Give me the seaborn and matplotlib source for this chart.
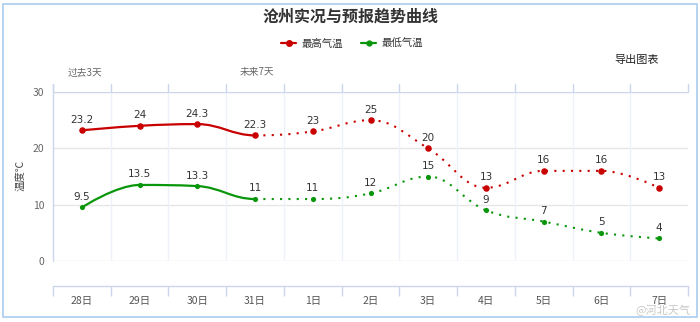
import numpy as np
import matplotlib
matplotlib.use("Agg")
import matplotlib.pyplot as plt
import seaborn as sns
from matplotlib.path import Path
from matplotlib.patches import PathPatch, Rectangle
from matplotlib.lines import Line2D
from matplotlib.transforms import blended_transform_factory

sns.set_theme(style="white")
plt.rcParams['font.family'] = ['Noto Sans CJK SC', 'DejaVu Sans']

days = ["28日", "29日", "30日", "31日", "1日", "2日", "3日", "4日", "5日", "6日", "7日"]
high = [23.2, 24, 24.3, 22.3, 23, 25, 20, 13, 16, 16, 13]
low = [9.5, 13.5, 13.3, 11, 11, 12, 15, 9, 7, 5, 4]
high_labels = ["23.2", "24", "24.3", "22.3", "23", "25", "20", "13", "16", "16", "13"]
low_labels = ["9.5", "13.5", "13.3", "11", "11", "12", "15", "9", "7", "5", "4"]
n_past = 4  # index 0..3 observed (solid), forecast from index 3 on (dotted)

RED = "#c80000"
GREEN = "#0a960a"
GRID = "#e6e6e6"
AXIS = "#ccd6eb"

W, H = 700, 322
fig = plt.figure(figsize=(W / 100, H / 100), dpi=100)
fig.patch.set_facecolor("white")

# outer light-blue frame
fig.add_artist(Rectangle((3 / W, 5 / H), 694 / W, 313 / H, transform=fig.transFigure,
                         fill=False, edgecolor="#a9cdef", lw=1.2))

L, R = 53, 688
TOP, BOT = 92, 261
ax = fig.add_axes([L / W, 1 - BOT / H, (R - L) / W, (BOT - TOP) / H])
ax.set_xlim(-0.5, len(days) - 0.5)
ax.set_ylim(0, 30)
for s in ["top", "right", "bottom", "left"]:
    ax.spines[s].set_visible(False)
ax.set_xticks([])
ax.set_yticks([0, 10, 20, 30])
ax.set_yticklabels(["0", "10", "20", "30"], color="#666666", fontsize=7.5)
ax.tick_params(axis="y", length=0, pad=6)
for yv in [0, 10, 20, 30]:
    ax.axhline(yv, color=GRID if yv != 30 else AXIS, lw=1, zorder=0)
for k in range(1, len(days)):
    ax.axvline(k - 0.5, color="#eef1f7", lw=1, zorder=0)
# top tick marks and left axis line extending above
for k in range(len(days) + 1):
    ax.add_line(Line2D([k - 0.5, k - 0.5], [1, 1 + 8 / (BOT - TOP)], color=AXIS, lw=1,
                       transform=blended_transform_factory(ax.transData, ax.transAxes),
                       clip_on=False))
ax.add_line(Line2D([0, 0], [0, 1 + 8 / (BOT - TOP)], color=AXIS, lw=1,
                   transform=ax.transAxes, clip_on=False))


def spline_path(xs, ys, smoothing=1.5):
    denom = smoothing + 1
    n = len(xs)
    lefts, rights = [None] * n, [None] * n
    for i in range(1, n - 1):
        x, y = xs[i], ys[i]
        lx, ly = xs[i - 1], ys[i - 1]
        nx, ny = xs[i + 1], ys[i + 1]
        lcx = (smoothing * x + lx) / denom
        lcy = (smoothing * y + ly) / denom
        rcx = (smoothing * x + nx) / denom
        rcy = (smoothing * y + ny) / denom
        if rcx != lcx:
            corr = ((rcy - lcy) * (rcx - x)) / (rcx - lcx) + y - rcy
            lcy += corr
            rcy += corr
        if lcy > ly and lcy > y:
            lcy = max(ly, y); rcy = 2 * y - lcy
        elif lcy < ly and lcy < y:
            lcy = min(ly, y); rcy = 2 * y - lcy
        if rcy > ny and rcy > y:
            rcy = max(ny, y); lcy = 2 * y - rcy
        elif rcy < ny and rcy < y:
            rcy = min(ny, y); lcy = 2 * y - rcy
        lefts[i] = (lcx, lcy)
        rights[i] = (rcx, rcy)
    verts = [(xs[0], ys[0])]
    codes = [Path.MOVETO]
    for i in range(1, n):
        c1 = rights[i - 1] if rights[i - 1] is not None else (xs[i - 1], ys[i - 1])
        c2 = lefts[i] if lefts[i] is not None else (xs[i], ys[i])
        verts += [c1, c2, (xs[i], ys[i])]
        codes += [Path.CURVE4] * 3
    return Path(verts, codes)


def draw_series(vals, color, ms, labels):
    xs = list(range(len(vals)))
    full = spline_path(xs, vals)
    verts = full.vertices
    solid_n = 1 + 3 * (n_past - 1)
    p1 = Path(verts[:solid_n], full.codes[:solid_n])
    v2 = verts[solid_n - 1:]
    c2 = [Path.MOVETO] + list(full.codes[solid_n:])
    p2 = Path(v2, c2)
    ax.add_patch(PathPatch(p1, facecolor="none", edgecolor=color, lw=1.6, zorder=3,
                           capstyle="round"))
    ax.add_patch(PathPatch(p2, facecolor="none", edgecolor=color, lw=1.5, zorder=3,
                           linestyle=(0, (1, 3)), capstyle="butt"))
    sns.scatterplot(x=xs, y=vals, ax=ax, color=color, s=ms, edgecolor=color,
                    linewidth=0, zorder=4, clip_on=False, legend=False)
    for x, v, lab in zip(xs, vals, labels):
        ax.annotate(lab, (x, v), xytext=(0, 4), textcoords="offset points",
                    ha="center", va="bottom", fontsize=7.5, color="#333333",
                    family="DejaVu Sans", zorder=5)


draw_series(high, RED, 22, high_labels)
draw_series(low, GREEN, 14, low_labels)

# bottom category axis
BX = 286
ax2 = fig.add_axes([L / W, 1 - BX / H, (R - L) / W, 0.0001])
ax2.set_xlim(-0.5, len(days) - 0.5)
for s in ["top", "right", "left"]:
    ax2.spines[s].set_visible(False)
ax2.spines["bottom"].set_visible(True)
ax2.spines["bottom"].set_color(AXIS)
ax2.spines["bottom"].set_linewidth(1)
ax2.set_yticks([])
ax2.set_xticks(range(len(days)))
ax2.set_xticklabels(days, fontsize=7.5, color="#555555")
ax2.set_xticks([k - 0.5 for k in range(len(days) + 1)], minor=True)
ax2.tick_params(axis="x", which="both", bottom=True, top=False)
ax2.tick_params(axis="x", which="major", length=0, pad=7)
ax2.tick_params(axis="x", which="minor", length=7, color=AXIS, width=1, direction="out")
ax2.patch.set_visible(False)

# texts
fig.text(350 / W, 1 - 17 / H, "沧州实况与预报趋势曲线", ha="center", va="center",
         fontsize=11.5, fontweight="bold", color="#333333")
fig.text(85 / W, 1 - 72 / H, "过去3天", ha="center", va="center", fontsize=7, color="#666666")
fig.text(257 / W, 1 - 72 / H, "未来7天", ha="center", va="center", fontsize=7, color="#666666")
fig.text(637 / W, 1 - 60 / H, "导出图表", ha="center", va="center", fontsize=8, color="#222222")
fig.text(22 / W, 1 - 175 / H, "温度℃", ha="center", va="center", rotation=90,
         fontsize=7.5, color="#444444")
fig.text(690 / W, 1 - 310 / H, "@河北天气", ha="right", va="center", fontsize=8,
         color="#c8c8c8")

handles = [Line2D([], [], color=RED, marker="o", ms=4, lw=1.6),
           Line2D([], [], color=GREEN, marker="o", ms=3.5, lw=1.6)]
fig.legend(handles, ["最高气温", "最低气温"], loc="center", bbox_to_anchor=(352 / W, 1 - 44 / H),
           ncol=2, frameon=False, fontsize=7.5, handlelength=1.4, handletextpad=0.5,
           columnspacing=1.8, labelcolor="#333333")

fig.savefig("out.png", dpi=100, facecolor="white")
